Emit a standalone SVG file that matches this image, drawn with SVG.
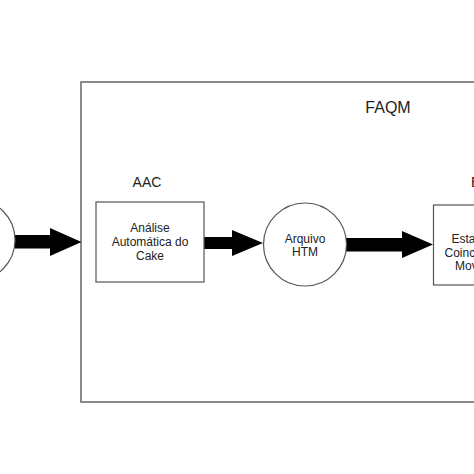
<svg xmlns="http://www.w3.org/2000/svg" width="474" height="474" viewBox="0 0 474 474">
<style>
text{font-family:"Liberation Sans",Arial,sans-serif;fill:#222}
.lbl{font-size:12px}
.node{fill:#fff;stroke:#555;stroke-width:1.2}
.frame{fill:none;stroke:#707070;stroke-width:1.6}
.arrow{fill:#000}
</style>
<rect width="474" height="474" fill="#fff"/>
<g id="faqm">
<rect class="frame" x="81" y="82" width="420" height="320"/>
<text x="388" y="113" font-size="16" text-anchor="middle">FAQM</text>
</g>
<g id="connectors">
<polygon class="arrow" points="15,235 50,235 50,228 81.5,242 50,256 50,248.5 15,248.5"/>
<polygon class="arrow" points="204,237 232,237 232,230 263,243 232,256 232,249 204,249"/>
<polygon class="arrow" points="346,238 402,238 402,231 433,244.5 402,258 402,251.5 346,251.5"/>
</g>
<g id="left-node">
<circle class="node" cx="-26" cy="240" r="41"/>
</g>
<g id="aac">
<text x="147" y="187" font-size="14" text-anchor="middle">AAC</text>
<rect class="node" x="96" y="202" width="108" height="80"/>
<text class="lbl" text-anchor="middle"><tspan x="150" y="232">Análise</tspan><tspan x="150" y="246">Automática do</tspan><tspan x="150" y="260">Cake</tspan></text>
</g>
<g id="arquivo-htm">
<circle class="node" cx="305" cy="244.5" r="41.5"/>
<text class="lbl" text-anchor="middle"><tspan x="305" y="243">Arquivo</tspan><tspan x="305" y="256">HTM</tspan></text>
</g>
<g id="right-node">
<text x="471" y="187" font-size="14">E</text>
<rect class="node" x="433.5" y="205" width="100" height="80"/>
<text class="lbl"><tspan x="451.5" y="243">Esta</tspan><tspan x="444.5" y="256.5">Coinc</tspan><tspan x="455" y="270">Mov</tspan></text>
</g>
</svg>
